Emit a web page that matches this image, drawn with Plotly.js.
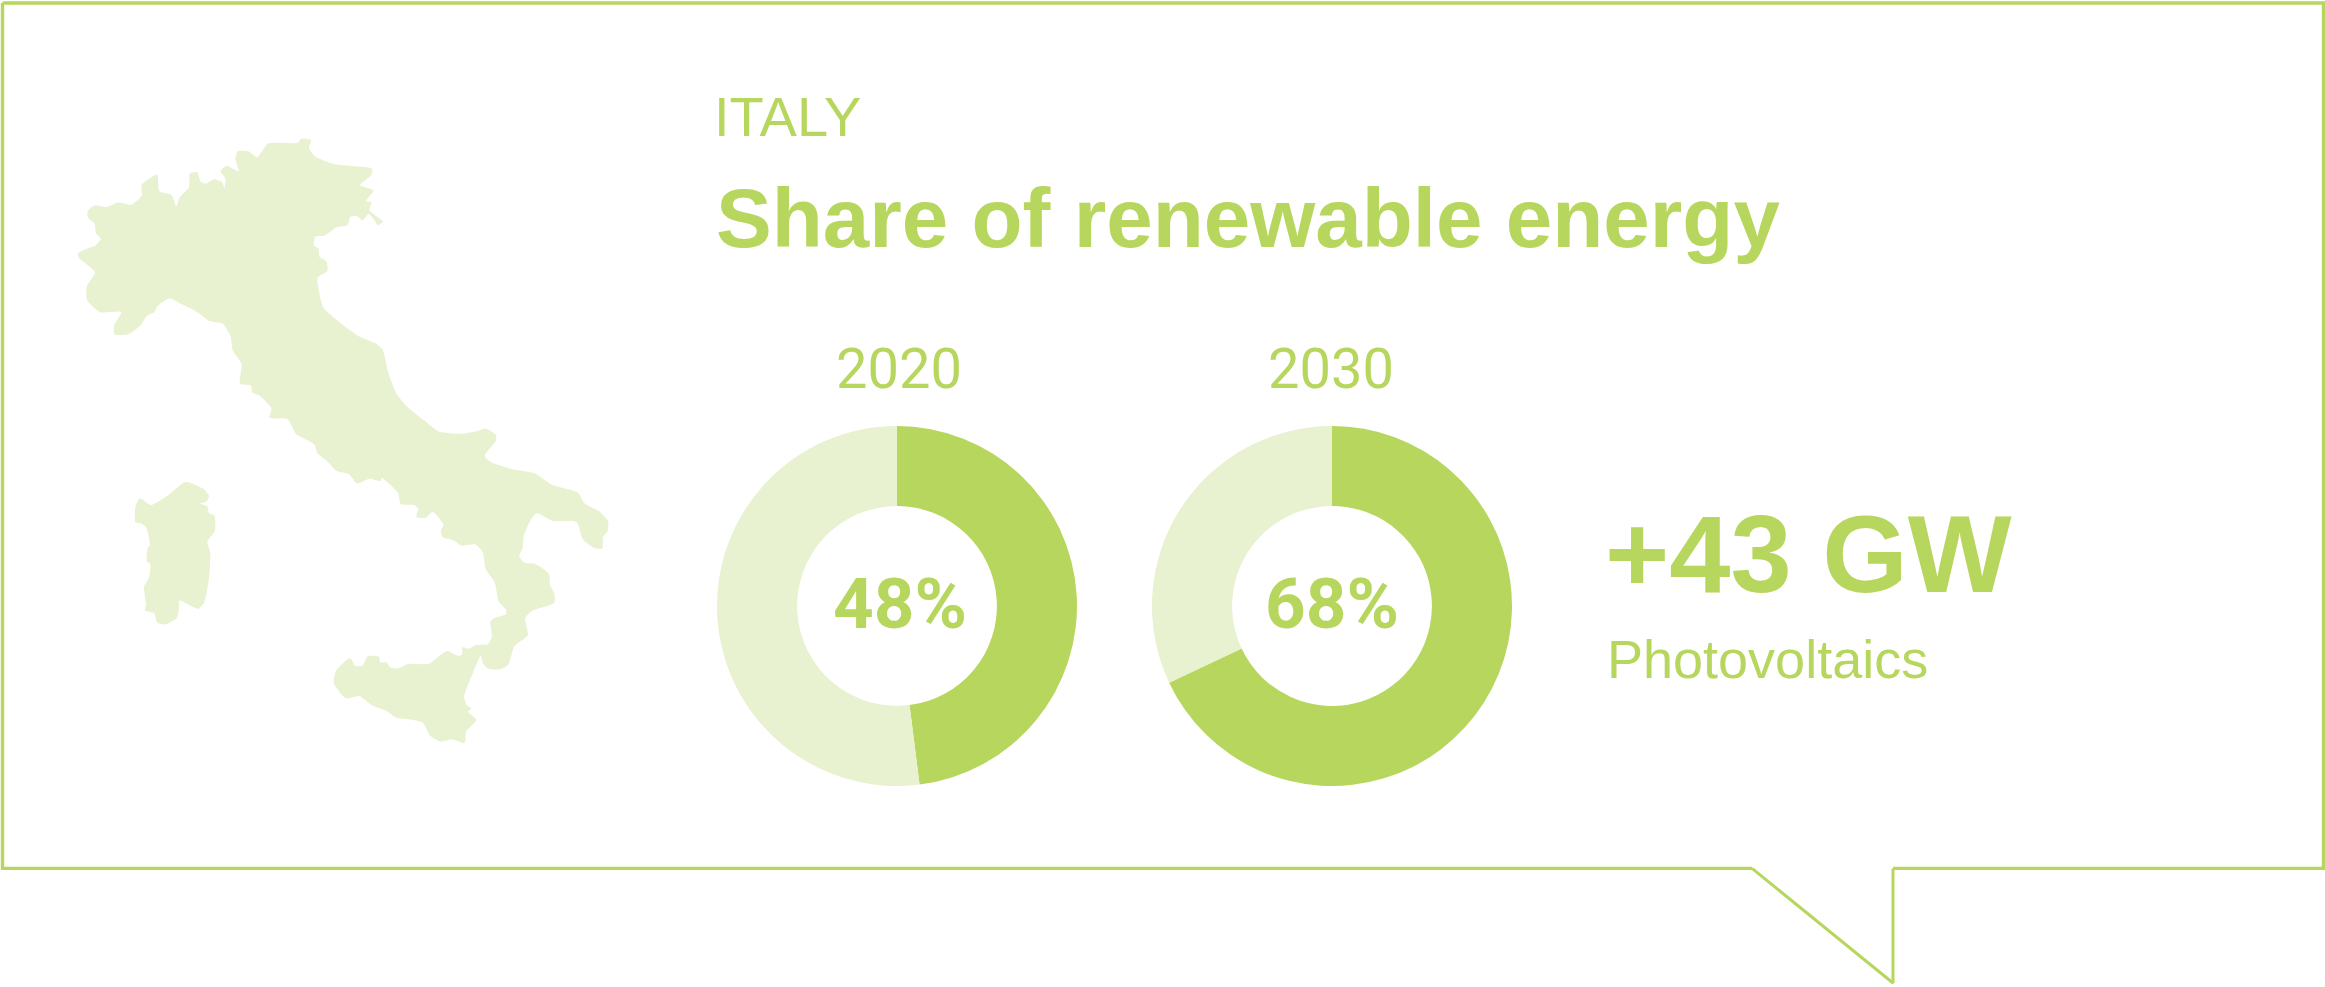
<!DOCTYPE html>
<html>
<head>
<meta charset="utf-8">
<script src="https://cdn.plot.ly/plotly-3.0.1.min.js"></script>
<style>html,body{margin:0;padding:0;background:#fff;overflow:hidden}#chart{width:2325px;height:987px}</style>
</head>
<body>
<div id="chart"></div>
<script>
// ---- chart values ----
const years = ["2020", "2030"];
const renewableShare = [48, 68];
const otherShare = [52, 32];
const shareLabels = ["48%", "68%"];
const sliceNames = ["Renewable", "Other"];
const countryName = "ITALY";
const headline = "Share of renewable energy";
const pvValue = "+43 GW";
const pvLabel = "Photovoltaics";

// ---- callout frame outline ----
const frameX = [2.5, 2323.5, 2323.5, 1893];
const frameY = [3, 3, 868.4, 868.4];
const frameLeftX = [2.5, 2.5, 1752];
const frameLeftY = [3, 868.4, 868.4];
const tailX = [1752, 1893, 1893];
const tailY = [868.4, 983, 868.4];

// ---- map outlines ----
const mainlandX = [190,215,232,247,235,232,215,215,232,260,290,322,347,347,385,390,420,432,440,463,465,483,492,505,525,545,550,552,540,555,572,585,577,582,610,630,657,730,737,762,757,772,820,912,908,882,915,897,910,905,938,925,918,903,888,875,858,852,825,795,772,770,780,783,800,802,778,780,792,830,880,920,938,950,972,1000,1040,1075,1130,1165,1190,1215,1215,1187,1200,1250,1310,1352,1415,1432,1470,1490,1488,1478,1475,1455,1428,1415,1405,1355,1315,1300,1283,1280,1272,1285,1310,1345,1348,1358,1358,1340,1305,1287,1293,1260,1245,1225,1195,1182,1178,1160,1137,1145,1155,1147,1167,1142,1138,1108,1080,1055,1035,1010,970,950,915,880,848,818,823,858,870,888,900,928,932,948,955,975,1000,1050,1095,1120,1132,1133,1150,1165,1195,1205,1202,1215,1240,1240,1222,1212,1190,1183,1165,1130,1110,1085,1080,1087,1060,1042,1020,1025,1015,982,975,935,932,905,875,855,825,800,778,770,740,725,705,660,665,635,618,615,588,592,570,565,545,515,480,445,415,385,378,360,345,315,280,280,297,245,213,213,233,195,190];
const mainlandY = [335,323,318,302,290,270,255,242,230,233,223,228,208,185,163,198,207,232,212,190,160,157,178,182,172,180,192,170,155,143,150,155,130,112,112,125,95,93,85,87,105,123,140,150,165,185,197,220,222,240,265,273,262,248,262,253,255,272,277,295,298,318,323,342,352,372,387,410,452,483,515,530,545,590,640,670,698,722,727,722,716,730,742,775,787,803,813,838,855,878,897,918,940,950,977,975,957,922,917,917,900,915,950,978,992,1008,1010,1032,1058,1075,1095,1102,1112,1128,1165,1190,1230,1240,1238,1225,1210,1245,1300,1320,1325,1332,1350,1375,1400,1392,1397,1385,1355,1350,1345,1332,1320,1298,1303,1270,1243,1215,1232,1232,1212,1212,1225,1225,1235,1238,1228,1228,1200,1210,1208,1192,1195,1187,1185,1170,1135,1127,1120,1110,1092,1050,1022,985,968,970,958,952,938,925,897,910,908,890,882,880,855,823,830,825,835,815,808,785,770,750,735,727,695,692,672,643,637,622,618,575,545,515,487,482,460,445,432,450,462,470,490,510,510,490,462,462,435,405,375,345,335];
const sardiniaX = [332,332,343,370,410,455,500,512,505,490,508,512,525,527,508,515,512,500,485,440,438,433,405,385,378,355,358,353,365,368,360,362,367,358,345,332];
const sardiniaY = [920,885,868,882,862,832,848,862,875,878,885,900,905,937,962,985,1040,1095,1108,1090,1110,1128,1142,1138,1118,1112,1100,1060,1040,1010,1005,975,970,930,922,920];

// ---- styles ----
const GREEN = "#b7d65d";
const PALE = "#e8f1d0";
const W = 2325, H = 987;
const noAxis = {visible: false, showgrid: false, zeroline: false, fixedrange: true};

const line = (x, y, width) => ({type: "scatter", mode: "lines", x, y, xaxis: "x", yaxis: "y",
  line: {color: GREEN, width, shape: "linear"}, hoverinfo: "skip", showlegend: false});
const land = (x, y) => ({type: "scatter", mode: "lines", x, y, xaxis: "x2", yaxis: "y2", fill: "toself",
  fillcolor: PALE, line: {width: 0, shape: "spline", smoothing: 0.6}, hoverinfo: "skip", showlegend: false});
const donut = (i, cx) => ({type: "pie", sort: false, direction: "clockwise", rotation: 0, hole: 0.555,
  values: [renewableShare[i], otherShare[i]], labels: sliceNames, textinfo: "none", hoverinfo: "label+percent",
  marker: {colors: [GREEN, PALE], line: {width: 0}}, showlegend: false,
  domain: {x: [(cx - 180) / W, (cx + 180) / W], y: [1 - 786 / H, 1 - 426 / H]}});

const traces = [
  line(frameX, frameY, 3.4), line(frameLeftX, frameLeftY, 3.4), line(tailX, tailY, 3),
  land(mainlandX, mainlandY), land(sardiniaX, sardiniaY),
  donut(0, 897), donut(1, 1332)
];

const label = (text, x, y, size, family, weight, anchor) => ({text, x, y, xref: "x", yref: "y", showarrow: false,
  xanchor: anchor, yanchor: "middle", align: anchor, borderpad: 0,
  font: {family, size, color: GREEN, weight}});
const ARIAL = "'Liberation Sans', Arial, sans-serif";
const DIN = "Roboto, 'Liberation Sans', sans-serif";

const layout = {
  width: W, height: H, margin: {l: 0, r: 0, t: 0, b: 0}, paper_bgcolor: "#fff", plot_bgcolor: "rgba(0,0,0,0)",
  showlegend: false,
  xaxis: {...noAxis, range: [0, W], domain: [0, 1]},
  yaxis: {...noAxis, range: [H, 0], domain: [0, 1]},
  xaxis2: {...noAxis, range: [0, 1568], domain: [0, 640 / W], anchor: "y2"},
  yaxis2: {...noAxis, range: [1568, 0], domain: [1 - 820 / H, 1 - 100 / H], anchor: "x2"},
  annotations: [
    label(countryName, 713, 116, 56, ARIAL, 400, "left"),
    label(headline, 715, 218, 83.6, ARIAL, 700, "left"),
    label(years[0], 899, 369, 56, DIN, 400, "center"),
    label(years[1], 1331, 369, 56, DIN, 400, "center"),
    label(shareLabels[0], 900, 603, 71, DIN, 700, "center"),
    label(shareLabels[1], 1332, 603, 71, DIN, 700, "center"),
    label(pvValue, 1604, 553, 110, ARIAL, 700, "left"),
    label(pvLabel, 1606, 659, 54, ARIAL, 400, "left")
  ]
};
Plotly.newPlot("chart", traces, layout, {displayModeBar: false});
</script>
</body>
</html>
